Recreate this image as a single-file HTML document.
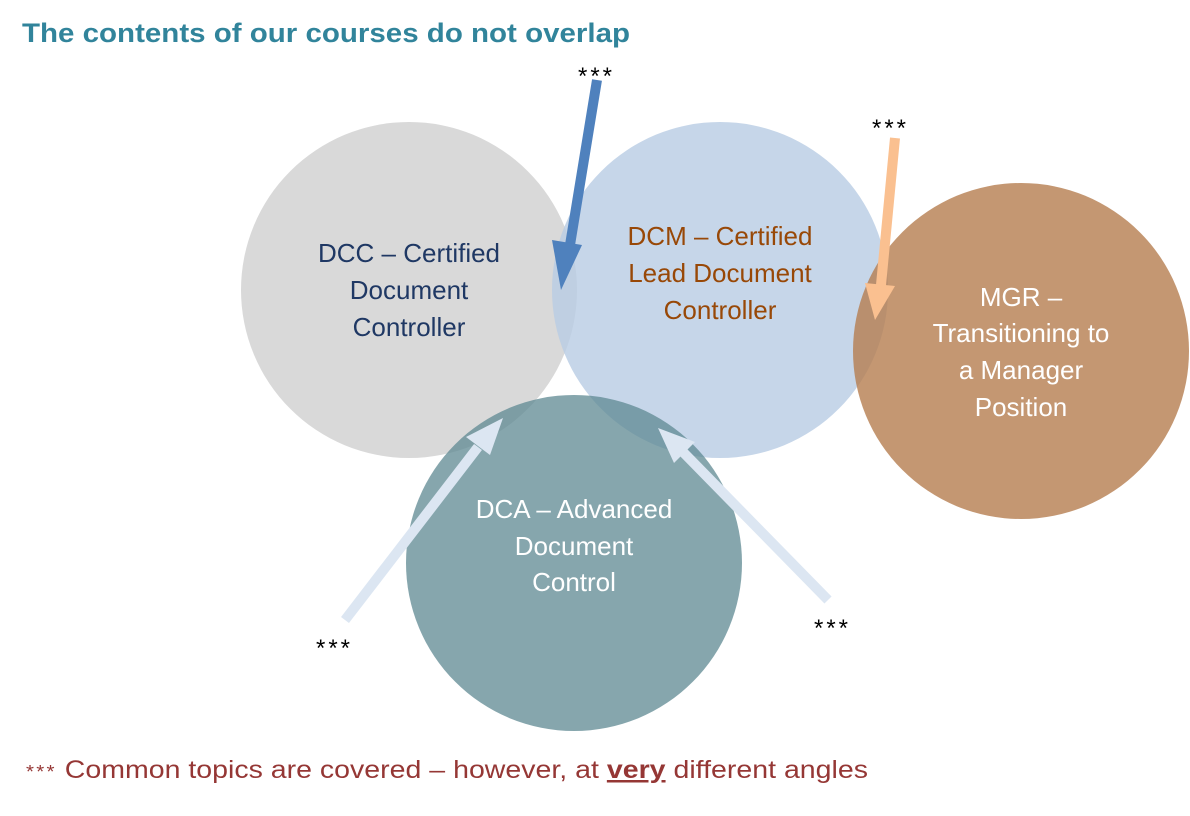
<!DOCTYPE html>
<html><head><meta charset="utf-8"><style>
body{margin:0;width:1190px;height:811px;background:#fff;overflow:hidden;font-family:"Liberation Sans",Calibri,sans-serif}
</style></head><body>
<svg width="1190" height="811" viewBox="0 0 1190 811" xmlns="http://www.w3.org/2000/svg" font-family="Liberation Sans, sans-serif">
<text x="22" y="42" font-size="27" font-weight="bold" fill="#31849b" textLength="608" lengthAdjust="spacingAndGlyphs">The contents of our courses do not overlap</text>
<circle cx="409" cy="290" r="168" fill="#d9d9d9"/>
<circle cx="720" cy="290" r="168" fill="#b8cce4" fill-opacity="0.8"/>
<circle cx="1021" cy="351" r="168" fill="#b57d4f" fill-opacity="0.8"/>
<circle cx="574" cy="563" r="168" fill="#5e8891" fill-opacity="0.75"/>
<g font-size="26" text-anchor="middle">
<text fill="#1f3864"><tspan x="409" y="262">DCC – Certified</tspan><tspan x="409" y="299">Document</tspan><tspan x="409" y="336">Controller</tspan></text>
<text fill="#984807"><tspan x="720" y="245">DCM – Certified</tspan><tspan x="720" y="282">Lead Document</tspan><tspan x="720" y="319">Controller</tspan></text>
<text fill="#fff"><tspan x="1021" y="306">MGR –</tspan><tspan x="1021" y="342">Transitioning to</tspan><tspan x="1021" y="379">a Manager</tspan><tspan x="1021" y="416">Position</tspan></text>
<text fill="#fff"><tspan x="574" y="518">DCA – Advanced</tspan><tspan x="574" y="555">Document</tspan><tspan x="574" y="591">Control</tspan></text>
</g>
<line x1="597" y1="80" x2="570" y2="245" stroke="#4f81bd" stroke-width="10"/>
<polygon points="552,240 582,245 561,290" fill="#4f81bd"/>
<line x1="895" y1="138" x2="881" y2="285" stroke="#fac090" stroke-width="10"/>
<polygon points="865,283 895,286 875,320" fill="#fac090"/>
<line x1="345" y1="620" x2="478" y2="447" stroke="#dce6f2" stroke-width="10"/>
<polygon points="466,437 490,455 503,418" fill="#dce6f2"/>
<line x1="828" y1="600" x2="683" y2="452" stroke="#dce6f2" stroke-width="10"/>
<polygon points="674,463 695,442 658,428" fill="#dce6f2"/>
<g font-size="24" fill="#000" letter-spacing="3">
<text x="578" y="84">***</text>
<text x="872" y="136">***</text>
<text x="316" y="656">***</text>
<text x="814" y="636">***</text>
</g>
<text x="26" y="778" font-size="25" fill="#953735" textLength="842" lengthAdjust="spacingAndGlyphs"><tspan font-size="18" letter-spacing="2">***</tspan> Common topics are covered – however, at <tspan font-weight="bold" text-decoration="underline">very</tspan> different angles</text>
</svg>
</body></html>
